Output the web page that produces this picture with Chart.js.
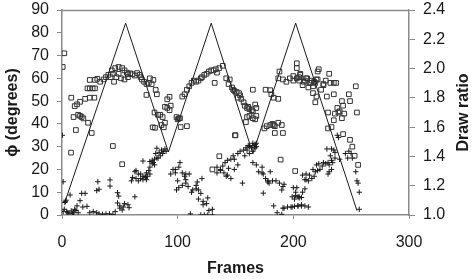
<!DOCTYPE html>
<html>
<head>
<meta charset="utf-8">
<script src="https://cdn.jsdelivr.net/npm/chart.js@4"></script>
<style>
  html, body { margin: 0; padding: 0; background: #fff; }
  canvas { display: block; }
</style>
</head>
<body>
<canvas id="c" width="474" height="279"></canvas>
<script>
// Draw ratio (triangle wave) – right axis
const lineFrames = [3, 55, 92, 129, 165, 202, 255];
const lineRatio  = [1.1, 2.31, 1.43, 2.31, 1.42, 2.31, 1.03];

// Open squares – phi (degrees), left axis
const squarePoints = [
  [2,71],[0.6,65],[8,51.5],[11,47.8],[13,48.6],[15.6,49.7],[20,51],[24,51.5],[28,51.5],
  [10,43],[14,44],[15.6,43.5],[17,43],[18.5,42.4],[22.5,40.5],[12,37.3],[25.7,36],[7.8,27.4],[44,30.3],[52,22.3],
  [22,55.6],[24,55.6],[26.5,55.6],[28.5,55.6],[24,59.3],[28.5,59.3],[30.5,59.8],
  [33,58.5],[36,59.5],[38,60.5],[40,61.5],[42,60.5],[44,62],[45,58.5],[47,60.5],[49,62],
  [43,63.5],[46,64.5],[49,65],[52,64.5],[54,63.5],[56,62.5],[57,61.8],[59,62.2],[61,61.8],[63,61.2],[65,62.3],[67,61.5],[68,60.5],
  [51,60],[54,59.5],[57,60.5],
  [69,59.5],[71,58.5],[73,57.5],[75,58],[76,60],[79,59.3],[73,52.7],[81,54.9],[77.5,57.4],[82,53],
  [93,51.9],[91,50.8],[89,47.5],[91,47],[93,46],[94,48],
  [80,45],[83,44],[85,44],[87,43],[89,40.5],[86,39.5],[88,38.5],[78.4,38.5],[80.4,38.3],
  [99,43],[101,42.4],[100,42],[102,42.5],[102.6,38.6],[108,39],
  [104,52],[106,53],[108,55],[110,56.5],[112,58],[114,59],[116,58.5],[118,59],[120,60],[121,60.5],[123,61.5],[125,62],[127,63],[129,63.5],[131,63.5],[133,64],[134,62.5],[136,64.5],[139,65.5],
  [132,58],
  [142,60],[145,59.5],[144,57.5],[147,56],[148,55],[149,54.5],[151,54],[153,53.5],[154,52.5],
  [152,51.5],[155,51],[157,49.5],[158,48],[160,47],[161,47.5],[162,46.5],[164,46],[165,45.5],[167,48.5],[168,47],
  [160,43],[162,43.5],[165,42.5],[167,42],[168,43.5],
  [165,55],[176,55],[180,54.8],[181,53],[183,51.5],[187,51],
  [177,39],[183,39.5],[175,38],[184,36],[191,36],[150,35],
  [187,60],[188,63],[191,59.5],[194,58.5],[197,60],[200,59],[203,64.5],[205,60.5],[206,61.5],[208,57],[210,59],[212,60],[213,56],[215,58],[218,58.5],[221,59.5],[221,63],[224,55],[226,57],
  [203,66.6],
  [200,61],[203,60],[206,62],[205,59],[209,58.5],[211,60],[214,58],[216,59],[217,56.5],[219,58],[222,64],[220,59.5],[226,57.5],[228,59],[231,62],[232,58],[235,58],[237,58],
  [217,53.5],[220,52],[219,49.5],
  [229,52],[235,53],[242,50],[243,48],[248,53],[249,50],[254,56.5],[255,45],
  [238,47],[240,45.5],[244,44.5],[242,42.5],
  [230,45],[236,44.5],[239,45],
  [230,38],[233,38.6],[243,35.5],[249,33],[251,30],[253,26],[256,22],[235,41.6],[201.6,19.3],
  [159,40.8],[149.5,35],[136,25.8],[130,20],[189,24.3],[180,39.5],[184,39],[182,40],[190,39.5],[187,40.5]
];

// Crosses – phi (degrees), left axis
const crossPoints = [
  [0.3,35],[1,14.6],[3,6],[3.5,6.5],[2.5,5.5],[7,8.8],
  [1,1.5],[2,2.5],[4,1.5],[5,1],[6,0.8],[8,1.8],[9,0.5],[10,1.2],[12,2],[14,1],[11,2.5],
  [17,9.5],[20,9.5],[15.6,6.3],[13,4],[18,3.5],[21.6,3.8],
  [24,1],[27,1.5],[30,1],[32,0.5],[35,0.3],[38,0.5],[41,0.5],[44,0.2],
  [31,14.6],[30,10.7],[32,11.3],[41.5,15.4],[41.5,12.7],
  [48,9.8],[49,8.3],[48,5.3],[50,4],
  [46,1.5],[52,2.2],[50,3],
  [54,5],[57,4.5],[53,3.5],[58,3.2],
  [63,8],[70,23.7],
  [63,19],[64,19.5],[66,18],[68,16],[70,15.5],[72,17],[73,18.5],[75,19.5],[76,21],[78,22.5],[79,23],[80,22],[81,27],[82,29.3],
  [61,16.5],[64,16],[66,15],[68,18],[70,17],[72,16.5],[74,17],[76,18],[60,15],[73,15.5],
  [76,23.5],[78,24],[80,24.5],[82,25],[85,26],[87,27],[88,28],[89,29],[86,28.5],[90,28],[84,27.5],[83,25],
  [96,20],[98,20],[101,21],[102,23],[94,18],[98,18.5],[104,18.5],[106,17],[107,18],[110,18],
  [99,11],[101,12],[104,13],[107,14],[100,15],[107,15.5],[109,12.5],[112,10],[113,11],[116,11.5],[118,11],[120,9.5],[121,16],[117,14.5],[116,13],
  [118,7],[122,6],[125,5],[126,7.5],[127,2],[130,2.5],[126,0],[130,0],[123,0],[120,0],[111,0.5],[122,4.5],
  [134,18.5],[137,20],[139,21.5],[141,23],[143,24],[146,24.5],[148,26],[149,24.5],[152,27],[154,28],[157,28.5],[159,29.5],[161,30.5],[162,30],[164,29.5],[167,29.5],[165,31.5],[162,27],
  [134,21],[137,19.5],[140,18.5],[142,17],[143,17.5],[146,16],[152,22],[149,20],[144,20.5],[156,14],
  [165,23],[168,22],
  [170,19],[173,18.5],[174,18],[176,16],[178,15],[179,14],[182,15],[185,15],[188,14],[191,12.5],[192,13.5],[190,11],[178,14.5],[180,19],
  [174,9.6],[173,21],
  [183,4],[191,3],[192,3],[195,3.5],[198,3.5],[201,3.8],[204,4],[207,4.5],[186,1],[190,0.3],
  [200,12],[203,12],[202,10],[204,8],[205,7.5],[207,7.7],[201,7],
  [208,17.5],[211,18],[214,17.5],[211,15.5],[217,20],[220,22],[222,22.5],
  [199,8],[202,8.5],[205,8],[208,10],[210,11.5],[204,4],[207,4],[210,4],[213,3.5],[199,3.5],
  [210,15.5],[213,15],[216,16],[218,17],[219,19],[221,19.5],[223,20],[225,21.5],[226,23],[228,22.5],[230,23],[231,22],[233,24],[234,23],[233,20],[231,19],[230,18],
  [233,29],[235,28.5],[236,27.5],[232,26],[238,35],[239,34],[229,29],[236,25],
  [245,27],[248,28],[250,27],[247,25],[240,24.5],[251,25],
  [254,19],[255,15],[256,14],[257,10],[257,2.5],
  [158,26],[160,28.5],[162,30.5],[165,30.5],[167,31],[168,30],[165,28],[168,31.5]
];

const xTicks = [0, 100, 200, 300];
const rightTitle = 'Draw ratio';

const INK = '#1a1a1a';
const AXIS = '#8a8a8a';
const FAMILY = '"Liberation Sans", Arial, sans-serif';
const tickFont = { family: FAMILY, size: 16 };
const titleFont = { family: FAMILY, size: 16, weight: 'bold' };

const extras = {
  id: 'extras',
  afterDatasetsDraw(chart) {
    const { ctx, chartArea } = chart;
    ctx.save();
    ctx.strokeStyle = AXIS;
    ctx.lineWidth = 1.5;
    ctx.beginPath();
    ctx.moveTo(chartArea.left, chartArea.top + 0.5);
    ctx.lineTo(chartArea.right, chartArea.top + 0.5);
    ctx.stroke();
    ctx.restore();
  },
  afterDraw(chart) {
    const { ctx, chartArea } = chart;
    ctx.save();
    ctx.translate(464, (chartArea.top + chartArea.bottom) / 2);
    ctx.rotate(-Math.PI / 2);
    ctx.font = 'bold 16px ' + FAMILY;
    ctx.fillStyle = INK;
    ctx.textAlign = 'center';
    ctx.textBaseline = 'middle';
    ctx.fillText(rightTitle, 0, 0);
    ctx.restore();
  }
};

function zeroPad(s) { s.paddingTop = 0; s.paddingBottom = 0; s.paddingLeft = 0; s.paddingRight = 0; }

new Chart(document.getElementById('c'), {
  data: {
    datasets: [
      {
        type: 'line',
        label: 'Draw ratio',
        data: lineFrames.map((x, i) => ({ x, y: lineRatio[i] })),
        yAxisID: 'y2',
        borderColor: INK,
        borderWidth: 1,
        pointRadius: 0,
        tension: 0,
        fill: false
      },
      {
        type: 'scatter',
        label: 'phi squares',
        data: squarePoints.map(p => ({ x: p[0], y: p[1] })),
        yAxisID: 'y',
        pointStyle: 'rect',
        pointRadius: 3.3,
        borderColor: '#333',
        borderWidth: 1,
        backgroundColor: 'rgba(255,255,255,0)'
      },
      {
        type: 'scatter',
        label: 'phi crosses',
        data: crossPoints.map(p => ({ x: p[0], y: p[1] })),
        yAxisID: 'y',
        pointStyle: 'cross',
        pointRadius: 2.7,
        borderColor: INK,
        borderWidth: 1
      }
    ]
  },
  options: {
    responsive: false,
    animation: false,
    layout: { padding: { top: 10, left: 0, right: 0, bottom: 0 } },
    plugins: { legend: { display: false }, tooltip: { enabled: false } },
    scales: {
      x: {
        type: 'linear',
        min: 0, max: 300,
        afterBuildTicks(s) { s.ticks = xTicks.map(v => ({ value: v })); },
        afterFit(s) { s.height = 64; zeroPad(s); },
        ticks: { font: tickFont, color: INK, padding: 14, maxRotation: 0, autoSkip: false },
        grid: { drawOnChartArea: false, drawTicks: true, tickLength: 4, color: AXIS },
        border: { color: AXIS, width: 1.5 },
        title: { display: true, text: 'Frames', font: titleFont, color: INK, padding: { top: 0, bottom: 1 } }
      },
      y: {
        type: 'linear',
        position: 'left',
        min: 0, max: 90,
        afterFit(s) { s.width = 62; zeroPad(s); },
        ticks: { stepSize: 10, font: tickFont, color: INK, padding: 8, autoSkip: false },
        grid: { drawOnChartArea: false, drawTicks: true, tickLength: 5, color: AXIS },
        border: { color: AXIS, width: 1.5 },
        title: { display: true, text: 'ϕ (degrees)', font: titleFont, color: INK, padding: { top: 3, bottom: 0 } }
      },
      y2: {
        type: 'linear',
        position: 'right',
        min: 1.0, max: 2.4,
        afterFit(s) { s.width = 65; zeroPad(s); },
        ticks: { stepSize: 0.2, font: tickFont, color: INK, padding: 8, autoSkip: false, callback: v => Number(v).toFixed(1) },
        grid: { drawOnChartArea: false, drawTicks: true, tickLength: 6, color: AXIS },
        border: { color: AXIS, width: 1.5 },
        title: { display: false }
      }
    }
  },
  plugins: [extras]
});
</script>
</body>
</html>
